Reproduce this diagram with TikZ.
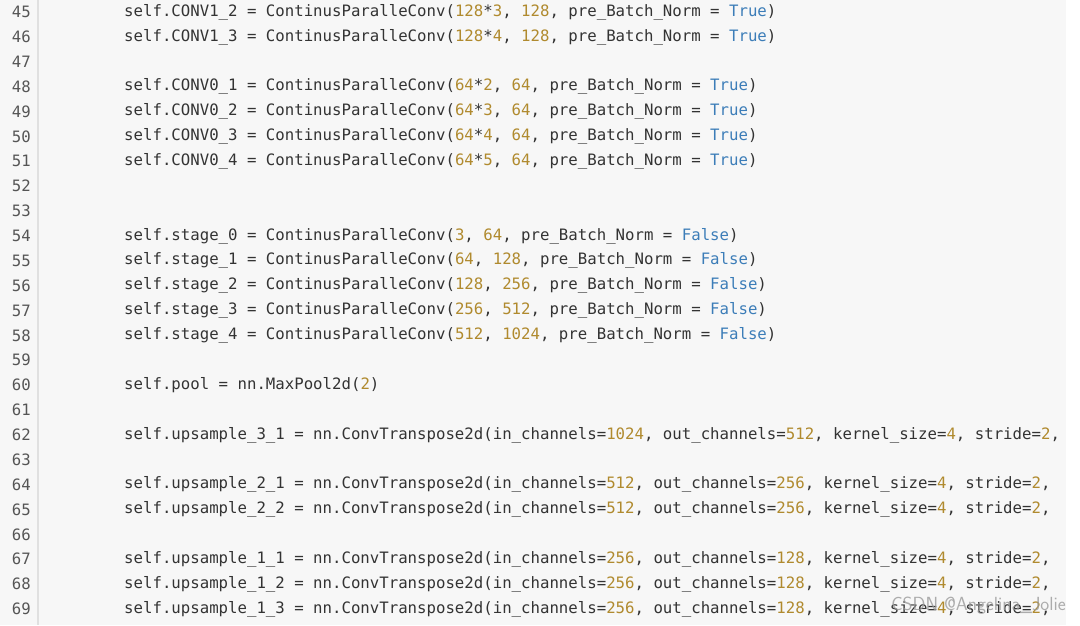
\documentclass[tikz,border=0pt]{standalone}
\usepackage{fontspec}
\setmonofont{DejaVu Sans Mono}
\definecolor{bg}{HTML}{F7F7F7}
\definecolor{txt}{HTML}{333333}
\definecolor{num}{HTML}{B08A2E}
\definecolor{kw}{HTML}{3C7DB8}
\definecolor{lno}{HTML}{555555}
\newcommand{\Nm}[1]{\textcolor{num}{#1}}
\newcommand{\Kw}[1]{\textcolor{kw}{#1}}
\begin{document}
\begin{tikzpicture}[x=1pt,y=1pt,
  code/.style={anchor=west,inner sep=0pt,font=\ttfamily\fontsize{15.7}{18}\selectfont,text=txt},
  ln/.style={anchor=east,inner sep=0pt,font=\ttfamily\fontsize{15.65}{18}\selectfont,text=lno}]
\useasboundingbox (0,0) rectangle (1080,625);
\fill[white] (0,0) rectangle (1080,625);
\fill[bg] (0,0) rectangle (1066,625);
\draw[black!12,line width=1.2pt] (38,0) -- (38,625);
\begin{scope}
\clip (0,0) rectangle (1066,625);
\foreach \i [count=\k from 0] in {45,...,69}
  \node[ln] (n\i) at (31,{613-24.875*\k}) {\i};
\def\Y#1{{613-24.875*(#1-45)}}
\node[code] (l45) at (124,\Y{45}) {self.CONV1\_2 = ContinusParalleConv(\Nm{128}*\Nm{3}, \Nm{128}, pre\_Batch\_Norm = \Kw{True})};
\node[code] (l46) at (124,\Y{46}) {self.CONV1\_3 = ContinusParalleConv(\Nm{128}*\Nm{4}, \Nm{128}, pre\_Batch\_Norm = \Kw{True})};
\node[code] (l48) at (124,\Y{48}) {self.CONV0\_1 = ContinusParalleConv(\Nm{64}*\Nm{2}, \Nm{64}, pre\_Batch\_Norm = \Kw{True})};
\node[code] (l49) at (124,\Y{49}) {self.CONV0\_2 = ContinusParalleConv(\Nm{64}*\Nm{3}, \Nm{64}, pre\_Batch\_Norm = \Kw{True})};
\node[code] (l50) at (124,\Y{50}) {self.CONV0\_3 = ContinusParalleConv(\Nm{64}*\Nm{4}, \Nm{64}, pre\_Batch\_Norm = \Kw{True})};
\node[code] (l51) at (124,\Y{51}) {self.CONV0\_4 = ContinusParalleConv(\Nm{64}*\Nm{5}, \Nm{64}, pre\_Batch\_Norm = \Kw{True})};
\node[code] (l54) at (124,\Y{54}) {self.stage\_0 = ContinusParalleConv(\Nm{3}, \Nm{64}, pre\_Batch\_Norm = \Kw{False})};
\node[code] (l55) at (124,\Y{55}) {self.stage\_1 = ContinusParalleConv(\Nm{64}, \Nm{128}, pre\_Batch\_Norm = \Kw{False})};
\node[code] (l56) at (124,\Y{56}) {self.stage\_2 = ContinusParalleConv(\Nm{128}, \Nm{256}, pre\_Batch\_Norm = \Kw{False})};
\node[code] (l57) at (124,\Y{57}) {self.stage\_3 = ContinusParalleConv(\Nm{256}, \Nm{512}, pre\_Batch\_Norm = \Kw{False})};
\node[code] (l58) at (124,\Y{58}) {self.stage\_4 = ContinusParalleConv(\Nm{512}, \Nm{1024}, pre\_Batch\_Norm = \Kw{False})};
\node[code] (l60) at (124,\Y{60}) {self.pool = nn.MaxPool2d(\Nm{2})};
\node[code] (l62) at (124,\Y{62}) {self.upsample\_3\_1 = nn.ConvTranspose2d(in\_channels=\Nm{1024}, out\_channels=\Nm{512}, kernel\_size=\Nm{4}, stride=\Nm{2},};
\node[code] (l64) at (124,\Y{64}) {self.upsample\_2\_1 = nn.ConvTranspose2d(in\_channels=\Nm{512}, out\_channels=\Nm{256}, kernel\_size=\Nm{4}, stride=\Nm{2},};
\node[code] (l65) at (124,\Y{65}) {self.upsample\_2\_2 = nn.ConvTranspose2d(in\_channels=\Nm{512}, out\_channels=\Nm{256}, kernel\_size=\Nm{4}, stride=\Nm{2},};
\node[code] (l67) at (124,\Y{67}) {self.upsample\_1\_1 = nn.ConvTranspose2d(in\_channels=\Nm{256}, out\_channels=\Nm{128}, kernel\_size=\Nm{4}, stride=\Nm{2},};
\node[code] (l68) at (124,\Y{68}) {self.upsample\_1\_2 = nn.ConvTranspose2d(in\_channels=\Nm{256}, out\_channels=\Nm{128}, kernel\_size=\Nm{4}, stride=\Nm{2},};
\node[code] (l69) at (124,\Y{69}) {self.upsample\_1\_3 = nn.ConvTranspose2d(in\_channels=\Nm{256}, out\_channels=\Nm{128}, kernel\_size=\Nm{4}, stride=\Nm{2},};
\end{scope}
\node[anchor=east,inner sep=0pt,font=\sffamily\fontsize{19}{22}\selectfont,text=black!40,opacity=0.8] (wm) at (1066,19) {CSDN @Angelina\_Jolie};
\end{tikzpicture}
\end{document}
